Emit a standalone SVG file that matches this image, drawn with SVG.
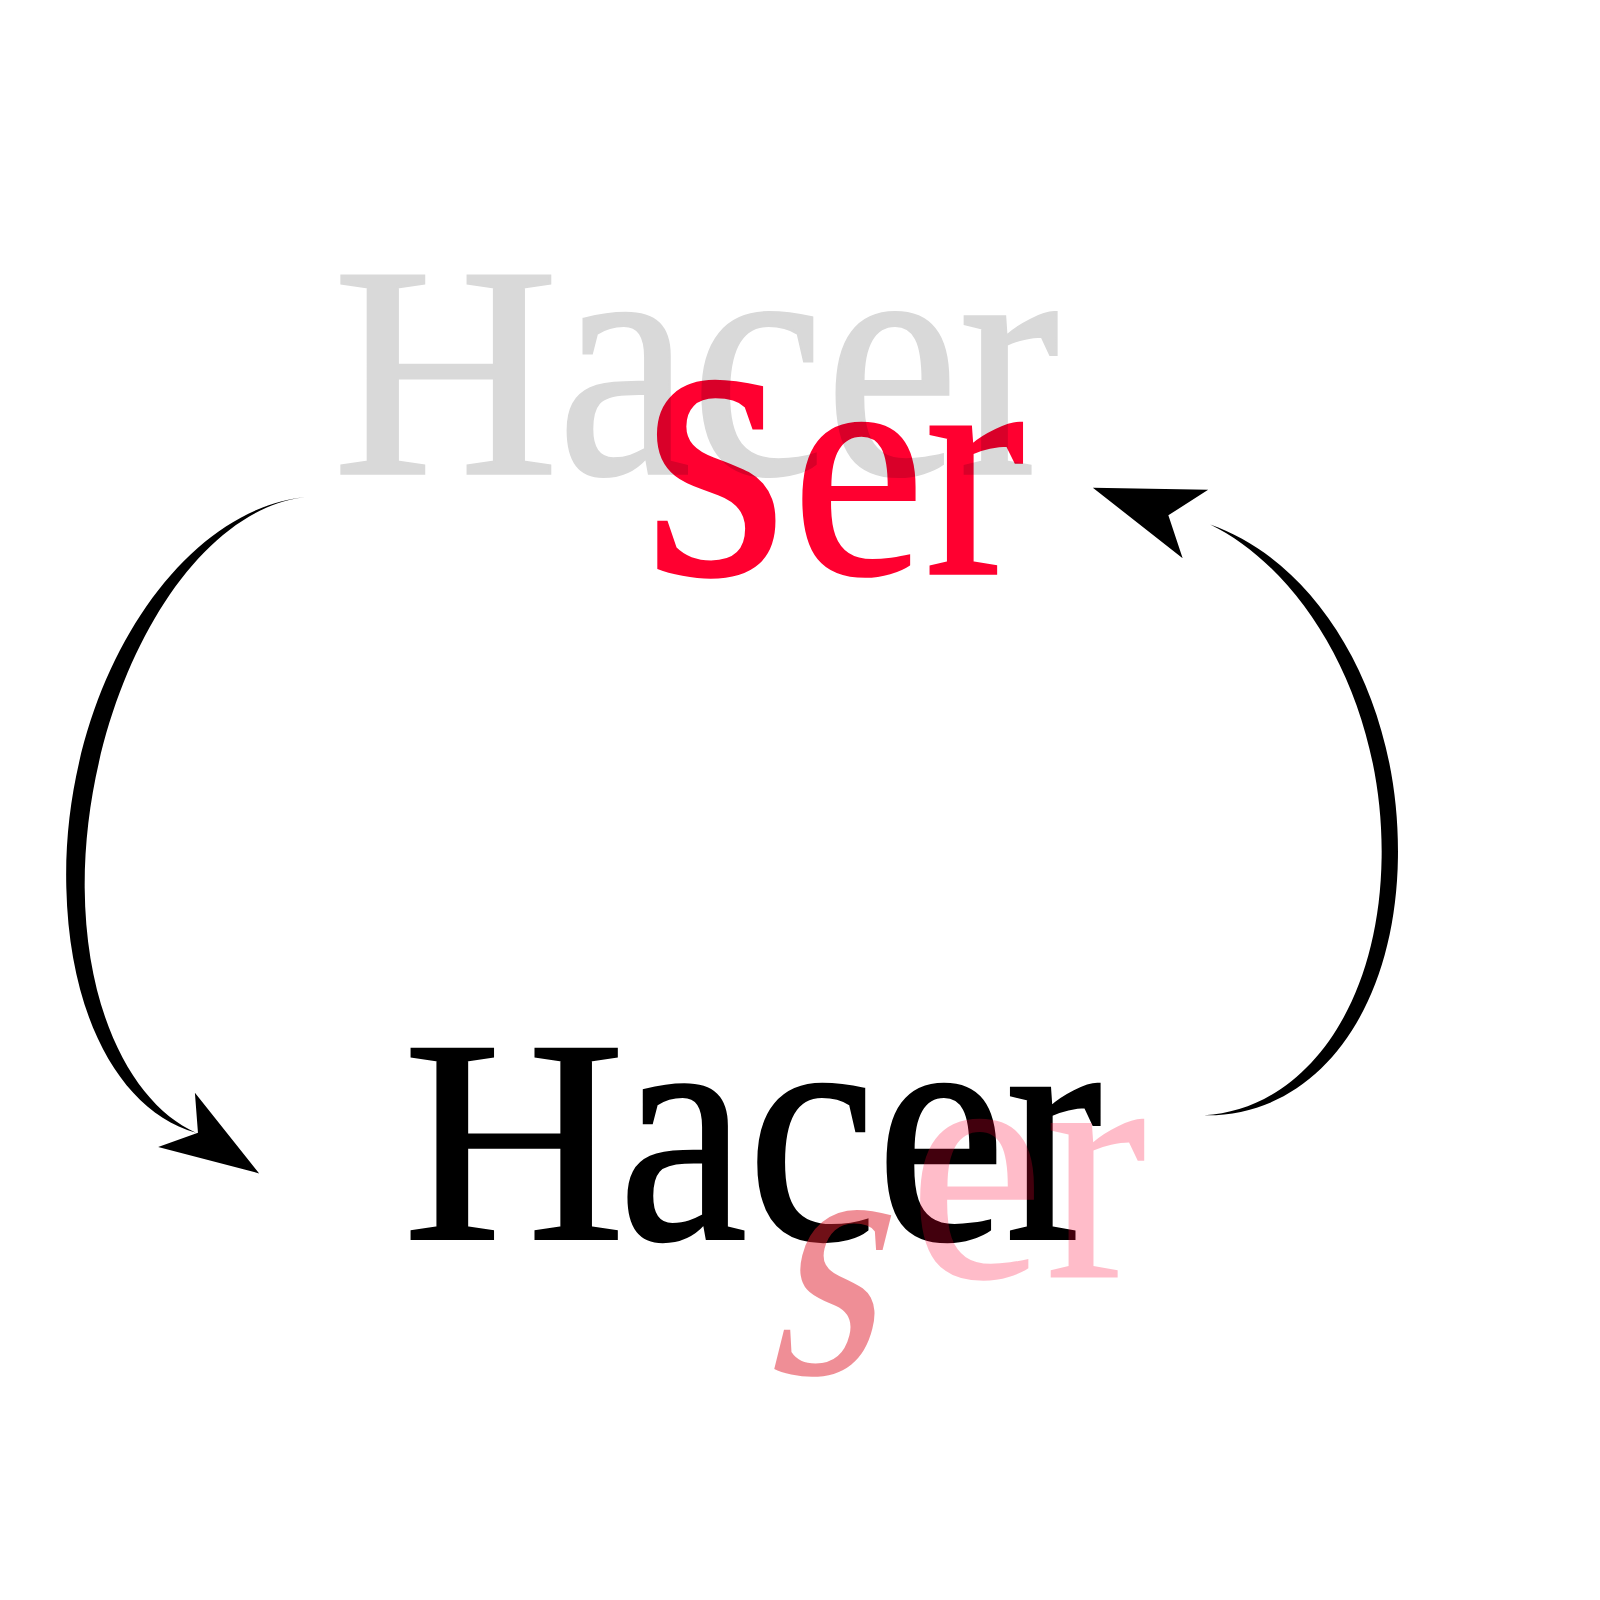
<svg xmlns="http://www.w3.org/2000/svg" width="1600" height="1600" viewBox="0 0 1600 1600">
<style>
.w{font-family:"Liberation Serif","Times New Roman",serif;font-weight:normal}
.arrow{fill:#000}
</style>
<rect width="1600" height="1600" fill="#fff"/>
<g transform="scale(1.0204)">
<g id="node-hacer-top">
<text class="w" y="464" fill="#d9d9d9" stroke="#d9d9d9" stroke-width="2.5"><tspan x="326" font-size="296" textLength="222" lengthAdjust="spacingAndGlyphs">H</tspan><tspan x="546" font-size="335" textLength="492" lengthAdjust="spacingAndGlyphs">acer</tspan></text>
</g>
<g id="node-ser-top" style="mix-blend-mode:multiply">
<text class="w" y="562" fill="#ff0030" stroke="#ff0030" stroke-width="2.5"><tspan x="630" font-size="400" textLength="142" lengthAdjust="spacingAndGlyphs">s</tspan><tspan x="776" font-size="313" textLength="228" lengthAdjust="spacingAndGlyphs">er</tspan></text>
</g>
<g id="node-hacer-bottom">
<text class="w" y="1214" fill="#000" stroke="#000" stroke-width="2.5"><tspan x="395" font-size="284" textLength="218" lengthAdjust="spacingAndGlyphs">H</tspan><tspan x="606" font-size="322" textLength="474" lengthAdjust="spacingAndGlyphs">acer</tspan></text>
</g>
<g id="node-ser-bottom">
<text class="w" transform="translate(746,1346) skewX(-14)" x="0" y="0" font-size="340" fill="#e0202f" opacity="0.5" textLength="108" lengthAdjust="spacingAndGlyphs">s</text>
<text class="w" x="890" y="1252" font-size="330" fill="#ff0033" opacity="0.26" textLength="234" lengthAdjust="spacingAndGlyphs">er</text>
</g>
<g id="connectors">
<path class="arrow" d="M300,487 C170,500 60,680 65,870 C68,1000 120,1090 192,1110 C135,1085 84,1000 83,870 C82,690 180,500 300,487 Z"/>
<polygon class="arrow" points="155,1124 254,1150 191,1071 194,1110"/>
<path class="arrow" d="M1186,514 C1290,550 1372,680 1370,840 C1368,990 1290,1095 1180,1093 C1275,1088 1352,990 1354,840 C1356,690 1280,560 1186,514 Z"/>
<polygon class="arrow" points="1071,478 1184,480 1145,505 1159,547"/>
</g>
</g>
</svg>
